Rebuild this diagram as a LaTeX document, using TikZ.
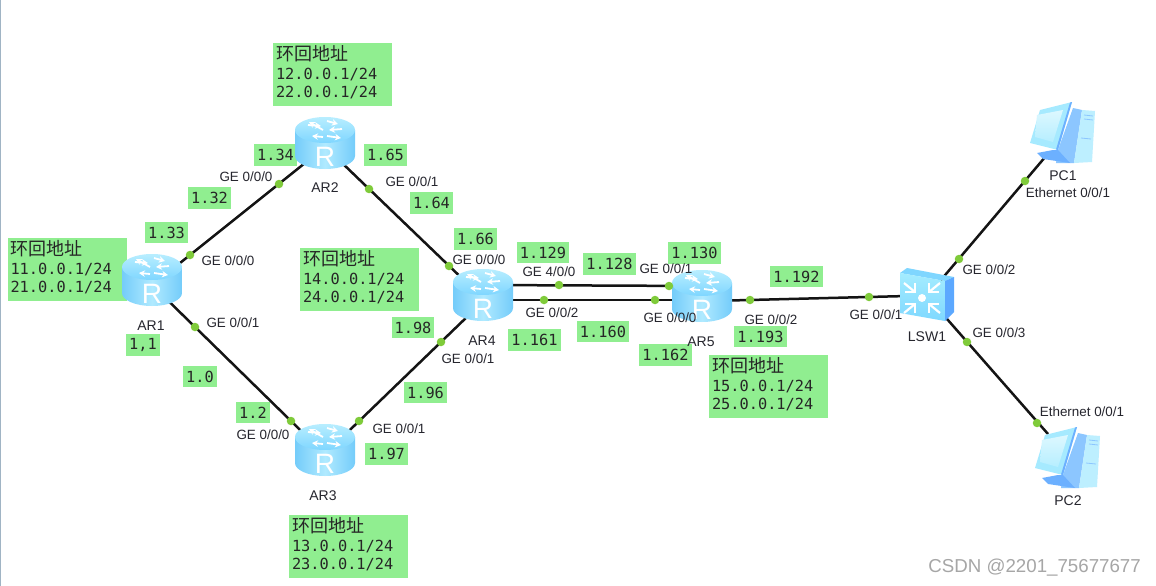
\documentclass[tikz,border=0pt]{standalone}
\usepackage{fontspec}
\setmainfont{Liberation Sans}
\newfontfamily\cjkfont{Noto Sans CJK SC}
\newfontfamily\monofont{DejaVu Sans Mono}
\usetikzlibrary{arrows.meta}
\definecolor{gboxc}{HTML}{90EE90}
\definecolor{dotc}{HTML}{7FCB3A}
\definecolor{linec}{HTML}{141414}
\definecolor{labc}{HTML}{26262E}
\definecolor{stripe}{HTML}{A0B4C4}
\definecolor{rtop}{HTML}{B8EEFF}
\definecolor{rtopb}{HTML}{7FD6FF}
\definecolor{rside}{HTML}{74CCFA}
\definecolor{rmid}{HTML}{B0EAFF}
\definecolor{swfront}{HTML}{A4ECFF}
\definecolor{swfrontb}{HTML}{7FD8FF}
\definecolor{swright}{HTML}{5CA8FF}
\definecolor{pcframe}{HTML}{A6EAFF}
\definecolor{pcscreen}{HTML}{DDF8FF}
\definecolor{pcside}{HTML}{8CC6FF}
\definecolor{pcfront}{HTML}{BDEFFF}
\definecolor{pcstand}{HTML}{6CB0FF}
\tikzset{
  x=1pt,y=-1pt,
  gbox/.style={fill=gboxc,inner sep=0pt,font=\monofont\fontsize{15.3}{19}\selectfont,text=black!85},
  bigbox/.style={fill=gboxc,inner sep=3pt,text width=113pt,align=left,minimum height=61pt,
     font=\monofont\fontsize{15.3}{18}\selectfont,text=black!85},
  device/.style={inner sep=0pt,minimum width=60pt,minimum height=52pt},
  port/.style={inner sep=0pt,font=\fontsize{13.4}{15}\selectfont,text=labc},
  devname/.style={inner sep=0pt,font=\fontsize{14}{16}\selectfont,text=labc},
  dotn/.style={circle,fill=dotc,inner sep=0pt,minimum size=8.5pt},
  link/.style={draw=linec,line width=2.5pt},
  wstroke/.style={draw=white,line width=1.8pt},
  routericon/.pic={
    \shade[left color=rside,right color=rside,middle color=rmid]
      (-30,-13) -- (-30,13) arc[start angle=180,end angle=360,x radius=30pt,y radius=13pt] -- (30,-13) -- cycle;
    \shade[top color=rtop,bottom color=rtopb] (0,-13) ellipse[x radius=30pt,y radius=13pt];
    \foreach \sx/\sy in {1/1,-1/-1}{
      \draw[wstroke,-{Stealth[length=6pt,width=6.5pt]}] (2*\sx,-10+3*\sy) -- (16*\sx,-13+8*\sy);
      \draw[wstroke,-{Stealth[length=6pt,width=6.5pt]}] (17*\sx,-16+2*\sy) -- (4*\sx,-15+2*\sy);
      \draw[wstroke,-{Stealth[length=6pt,width=6.5pt]}] (-2*\sx,-14+8*\sy) -- (-13*\sx,-13+6*\sy);
    }
    \node[inner sep=0pt,text=white,font=\fontsize{28}{28}\selectfont] (-r) at (0,14) {R};
  },
  switchicon/.pic={
    \fill[rtopb] (-27,-22) -- (-20,-27) -- (27,-18) -- (18,-14) -- cycle;
    \shade[top color=swfront,bottom color=swfrontb] (-27,-22) -- (18,-14) -- (18,26) -- (-27,18) -- cycle;
    \fill[swright] (18,-14) -- (27,-18) -- (27,17) -- (18,26) -- cycle;
    \fill[white] (-5,3) circle[radius=4pt];
    \foreach \ax/\ay in {-1/-1,1/-1,-1/1,1/1}{
      \draw[wstroke,line width=2.2pt] (-5+18*\ax,3+15*\ay) -- (-5+7*\ax,3+6*\ay);
      \draw[wstroke,line width=2.2pt] (-5+7*\ax,3+15*\ay) -- (-5+7*\ax,3+6*\ay) -- (-5+17*\ax,3+6*\ay);
    }
  },
  pcicon/.pic={
    \fill[pcside] (10,-24) -- (19,-22) -- (11,31) -- (-7,31) -- (-5,18) -- cycle;
    \fill[pcfront] (19,-22) -- (32,-21) -- (29,30) -- (11,31) -- cycle;
    \draw[pcside,line width=.8pt] (21,-17) -- (30,-16) (21,-13) -- (30,-12) (18,6) -- (28,7);
    \fill[pcstand] (-26,21) -- (-10,18) -- (-5,18) -- (7,31) -- (-20,27) -- cycle;
    \fill[pcframe] (-23,-22) -- (9,-30) -- (-5,18) -- (-33,11) -- cycle;
    \fill[pcstand] (7,-29.5) -- (9,-30) -- (-5,18) -- (-7,17.5) -- cycle;
    \shade[top color=pcscreen,bottom color=pcframe!70!pcscreen] (-26,-17) -- (0,-22) -- (-10,10) -- (-28,5) -- cycle;
  },
}
\newcommand\gb[6]{%
  \pgfmathsetmacro\bw{#4-#2}\pgfmathsetmacro\bh{#5-#3}%
  \pgfmathsetmacro\bx{(#2+#4)/2}\pgfmathsetmacro\by{(#3+#5)/2}%
  \node[gbox,minimum width=\bw pt,minimum height=\bh pt] (#1) at (\bx,\by) {#6};}
\newcommand\loopbox[5]{%
  \node[bigbox] (#1) at (#2,#3) {{\cjkfont\fontsize{18}{20}\selectfont 环回地址}\\[0.5pt]#4\\#5\rule[-6pt]{0pt}{6pt}};}
\begin{document}
\begin{tikzpicture}
\useasboundingbox (0,0) rectangle (1156,586);
\fill[white] (0,0) rectangle (1156,586);
\fill[stripe] (0,0) rectangle (1.4,586);

% green address boxes
\loopbox{lb1}{67}{269.5}{11.0.0.1/24}{21.0.0.1/24}
\loopbox{lb2}{332.5}{74.5}{12.0.0.1/24}{22.0.0.1/24}
\loopbox{lb3}{348.5}{546.5}{13.0.0.1/24}{23.0.0.1/24}
\loopbox{lb4}{359.5}{279.5}{14.0.0.1/24}{24.0.0.1/24}
\loopbox{lb5}{768.5}{386.5}{15.0.0.1/24}{25.0.0.1/24}
\gb{a34}{254}{144}{297}{166}{1.34}
\gb{a65}{364}{144}{407}{166}{1.65}
\gb{a32}{188}{187}{231}{209}{1.32}
\gb{a33}{145}{222}{188}{243}{1.33}
\gb{a64}{410}{192}{453}{214}{1.64}
\gb{a66}{454}{228}{497}{250}{1.66}
\gb{a129}{517}{242}{569}{263}{1.129}
\gb{a128}{583}{253}{636}{275}{1.128}
\gb{a130}{668}{242}{721}{264}{1.130}
\gb{a192}{770}{266}{823}{287}{1.192}
\gb{a161}{508}{329}{561}{351}{1.161}
\gb{a160}{577}{321}{629}{342}{1.160}
\gb{a162}{639}{344}{692}{366}{1.162}
\gb{a193}{734}{326}{787}{347}{1.193}
\gb{a98}{392}{317}{434}{338}{1.98}
\gb{a96}{404}{382}{447}{403}{1.96}
\gb{a97}{365}{443}{408}{465}{1.97}
\gb{a12}{236}{402}{270}{423}{1.2}
\gb{a10}{183}{366}{217}{387}{1.0}
\gb{a11}{126}{334}{160}{356}{1,1}

% device nodes
\node[device] (ar1) at (152,280) {};
\node[device] (ar2) at (325,143) {};
\node[device] (ar3) at (325,450) {};
\node[device] (ar4) at (483,295) {};
\node[device] (ar5) at (702,296) {};
\node[device] (lsw) at (927,295) {};
\node[device] (pc1) at (1063,132) {};
\node[device] (pc2) at (1068,457) {};

% links
\draw[link] ([shift={(18,-9)}]ar1.center) -- ([shift={(-15,16)}]ar2.center);
\draw[link] ([shift={(15,18)}]ar2.center) -- ([shift={(-13,-9)}]ar4.center);
\draw[link] ([shift={(18,22.5)}]ar1.center) -- ([shift={(-15,-10.4)}]ar3.center);
\draw[link] ([shift={(15,-10.5)}]ar3.center) -- ([shift={(-13,19)}]ar4.center);
\draw[link] ([shift={(0,-10)}]ar4.center) -- ([shift={(0,-10)}]ar5.center);
\draw[link] ([shift={(0,5)}]ar4.center) -- ([shift={(0,4)}]ar5.center);
\draw[link] ([shift={(0,5.2)}]ar5.center) -- ([shift={(0,0.5)}]lsw.center);
\draw[link] ([shift={(8,-8)}]lsw.center) -- ([shift={(-17,24)}]pc1.center);
\draw[link] ([shift={(13,16)}]lsw.center) -- ([shift={(-20,-23)}]pc2.center);

% icons
\pic (i1) at (ar1) {routericon};
\pic (i2) at (ar2) {routericon};
\pic (i3) at (ar3) {routericon};
\pic (i4) at (ar4) {routericon};
\pic (i5) at (ar5) {routericon};
\pic (i6) at (lsw) {switchicon};
\pic (i7) at (pc1) {pcicon};
\pic (i8) at (pc2) {pcicon};

% interface dots
\foreach \n/\x/\y in {d1/190/255,d2/279/184,d3/369/189,d4/449/266,d5/195/327,d6/291/421,
  d7/359/421,d8/441/342,d9/559/285,d10/669/286,d11/544/300,d12/655/300,d13/750/300,
  d14/869/297,d15/959/259,d16/1025/181,d17/967/342,d18/1037/423}
  \node[dotn] (\n) at (\x,\y) {};

% interface names
\foreach \n/\x/\y/\t in {p1/246/177/GE 0\slash 0\slash 0,p2/228/261/GE 0\slash 0\slash 0,
  p3/412/182/GE 0\slash 0\slash 1,p4/479/260/GE 0\slash 0\slash 0,p5/233/323/GE 0\slash 0\slash 1,
  p6/263/435/GE 0\slash 0\slash 0,p7/399/429/GE 0\slash 0\slash 1,p8/468/359/GE 0\slash 0\slash 1,
  p9/549/272/GE 4\slash 0\slash 0,p10/666/269/GE 0\slash 0\slash 1,p11/552/313/GE 0\slash 0\slash 2,
  p12/670/318/GE 0\slash 0\slash 0,p13/771/320/GE 0\slash 0\slash 2,p14/876/315/GE 0\slash 0\slash 1,
  p15/989/270/GE 0\slash 0\slash 2,p16/999/333/GE 0\slash 0\slash 3,
  p17/1068/193/Ethernet 0\slash 0\slash 1,p18/1082/412/Ethernet 0\slash 0\slash 1}
  \node[port] (\n) at (\x,\y) {\t};

% device names
\foreach \n/\x/\y/\t in {l1/151/326/AR1,l2/325/188/AR2,l3/323/496/AR3,l4/482/341/AR4,
  l5/701/342/AR5,l6/927/337/LSW1,l7/1063/176/PC1,l8/1068/501/PC2}
  \node[devname] (\n) at (\x,\y) {\t};

\node[anchor=east,inner sep=0pt,text=black!35,font=\fontsize{18.7}{20}\selectfont] (wm) at (1141,568) {CSDN @2201\_75677677};
\end{tikzpicture}
\end{document}
